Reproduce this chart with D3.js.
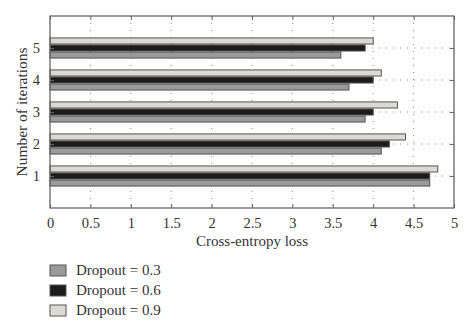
<!DOCTYPE html>
<html><head><meta charset="utf-8">
<script src="https://cdn.jsdelivr.net/npm/d3@7"></script>
<style>body{margin:0;background:#fff}svg{display:block}text{font-family:"Liberation Serif","Times New Roman",serif;fill:#333}</style>
</head><body><svg id="c" width="474" height="335"></svg>
<script>
const categories = [1, 2, 3, 4, 5];
const dropout03 = [4.7, 4.1, 3.9, 3.7, 3.6];
const dropout06 = [4.7, 4.2, 4.0, 4.0, 3.9];
const dropout09 = [4.8, 4.4, 4.3, 4.1, 4.0];
const seriesNames = ["Dropout = 0.3", "Dropout = 0.6", "Dropout = 0.9"];
const xTicks = [0, 0.5, 1, 1.5, 2, 2.5, 3, 3.5, 4, 4.5, 5];

const series = [
  {name: seriesNames[0], values: dropout03, fill: "#9a9a9a", off: -0.22},
  {name: seriesNames[1], values: dropout06, fill: "#1c1c1c", off: 0},
  {name: seriesNames[2], values: dropout09, fill: "#dcdad5", off: 0.22}
];

const svg = d3.select("#c");
const L = 50, R = 454, T = 16, B = 208;
const x = d3.scaleLinear().domain([0, 5]).range([L, R]);
const y = d3.scaleLinear().domain([0, 6]).range([B, T]);
const bh = 0.19;

// grid
const g = svg.append("g");
g.selectAll(".vg").data(xTicks.slice(1, -1)).join("line")
  .attr("x1", d => x(d)).attr("x2", d => x(d)).attr("y1", T).attr("y2", B)
  .attr("stroke", "#888").attr("stroke-width", 1).attr("stroke-dasharray", "1,6");
g.selectAll(".hg").data(categories).join("line")
  .attr("x1", L).attr("x2", R).attr("y1", d => y(d)).attr("y2", d => y(d))
  .attr("stroke", "#888").attr("stroke-width", 1).attr("stroke-dasharray", "1,6");

// bars
series.forEach(s => {
  svg.append("g").selectAll("rect").data(categories).join("rect")
    .attr("x", x(0))
    .attr("y", (d) => y(d + s.off + bh / 2))
    .attr("width", (d, i) => x(s.values[i]) - x(0))
    .attr("height", y(0) - y(bh))
    .attr("fill", s.fill).attr("stroke", "#555").attr("stroke-width", 1);
});

// frame
svg.append("rect").attr("x", L).attr("y", T).attr("width", R - L).attr("height", B - T)
  .attr("fill", "none").attr("stroke", "#666").attr("stroke-width", 1.3);

// ticks (inward) via axes
const tl = -4;
const ax = svg.append("g").attr("transform", `translate(0,${B})`)
  .call(d3.axisBottom(x).tickValues(xTicks).tickSize(tl).tickPadding(10).tickFormat(d => d));
const axTop = svg.append("g").attr("transform", `translate(0,${T})`)
  .call(d3.axisTop(x).tickValues(xTicks).tickSize(tl).tickFormat(""));
const ay = svg.append("g").attr("transform", `translate(${L},0)`)
  .call(d3.axisLeft(y).tickValues(categories).tickSize(tl).tickPadding(10).tickFormat(d3.format("d")));
const ayR = svg.append("g").attr("transform", `translate(${R},0)`)
  .call(d3.axisRight(y).tickValues(categories).tickSize(tl).tickFormat(""));
[ax, axTop, ay, ayR].forEach(a => {
  a.select(".domain").remove();
  a.selectAll("line").attr("stroke", "#666");
  a.selectAll("text").attr("font-family", "Liberation Serif, serif").attr("font-size", 14.5).attr("fill", "#333");
});

svg.append("text").attr("x", x(2.5)).attr("y", 246).attr("text-anchor", "middle")
  .attr("font-size", 15).text("Cross-entropy loss");
svg.append("text").attr("transform", `translate(27,${y(3)}) rotate(-90)`).attr("text-anchor", "middle")
  .attr("font-size", 15.5).text("Number of iterations");

// legend
const lg = svg.append("g");
series.forEach((s, i) => {
  lg.append("rect").attr("x", 50).attr("y", 265 + i * 20).attr("width", 16).attr("height", 11)
    .attr("fill", s.fill).attr("stroke", "#555").attr("stroke-width", 1);
  lg.append("text").attr("x", 76).attr("y", 275 + i * 20).attr("font-size", 15).text(s.name);
});
</script></body></html>
